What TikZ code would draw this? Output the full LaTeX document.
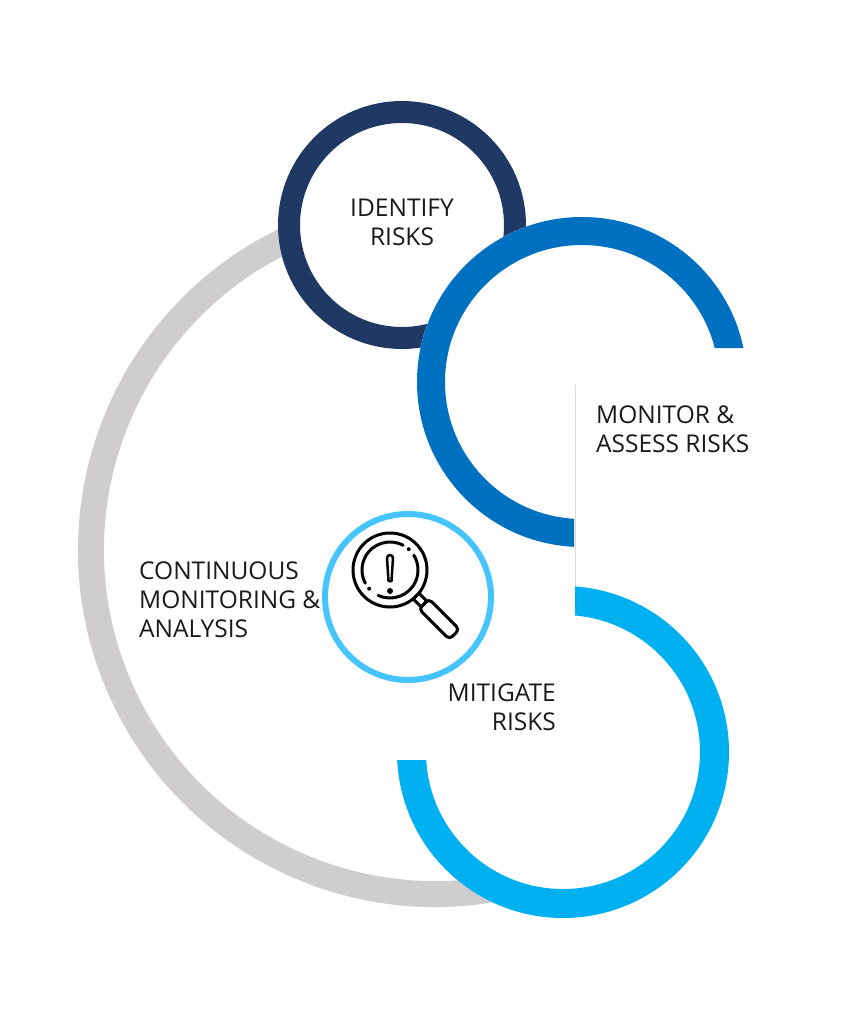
\documentclass[tikz,border=0pt]{standalone}
\usepackage{fontspec}
\setmainfont{Open Sans}
\definecolor{grayring}{HTML}{CFCDCE}
\definecolor{navy}{HTML}{203864}
\definecolor{midblue}{HTML}{0070C0}
\definecolor{lightblue}{HTML}{00B0F0}
\definecolor{skyblue}{HTML}{45C4FF}
\definecolor{txt}{HTML}{1A1A1A}
\begin{document}
\begin{tikzpicture}[x=1pt,y=-1pt,
  lbl/.style={font=\fontsize{24.5}{29}\selectfont, text=txt, inner sep=0pt},
  icon/.style={draw=black, line width=3pt, line cap=round}]
\useasboundingbox[fill=white] (0,0) rectangle (864,1024);
% gray arc
\draw[grayring, line width=26pt] (435,550) ++(66:344) arc[start angle=66, end angle=282, radius=344];
% navy ring
\node[circle, draw=navy, line width=22pt, fill=white, minimum size=226pt, inner sep=0pt] (navy) at (402,225) {};
% blue ring
\fill[white] (582,382) circle[radius=165];
\begin{scope}
\clip (0,0) -- (864,0) -- (864,348) -- (574,348) -- (574,1024) -- (0,1024) -- cycle;
\draw[midblue, line width=28pt] (582,382) circle[radius=151];
\end{scope}
% separator line
\coordinate (lt) at (575,385);
\coordinate (lb) at (575,760);
\draw[black!15, line width=1pt] (lt) -- (lb);
% light blue ring
\fill[white] (563,752) circle[radius=166];
\begin{scope}
\clip (575,0) -- (864,0) -- (864,1024) -- (0,1024) -- (0,760) -- (575,760) -- cycle;
\draw[lightblue, line width=29pt] (563,752) circle[radius=151.5];
\end{scope}
% small circle
\node[circle, draw=skyblue, line width=6pt, fill=white, minimum size=166pt, inner sep=0pt] (hub) at (408,597) {};
% icon
\begin{scope}[shift={(390,570)}]
\draw[icon] (0,0) circle[radius=37];
\draw[icon] (0,0) ++(-62:28) arc[start angle=-62, end angle=-208, radius=28];
\draw[icon] (0,0) ++(-245:28) arc[start angle=-245, end angle=-392, radius=28];
\fill (-222:28) circle[radius=2];
\fill (-48:28) circle[radius=2];
\draw[icon, line width=2.5pt, line join=round] (-3,-12) -- (-1.5,11) -- (1.5,11) -- (3,-12) arc[start angle=0, end angle=-180, radius=3] -- cycle;
\fill (0,21) circle[radius=3];
\begin{scope}[rotate=-45]
\draw[icon, line join=round] (37,-4) rectangle (48,4);
\draw[icon, rounded corners=4pt] (48,-7) rectangle (91,7);
\end{scope}
\end{scope}
% labels
\node[lbl, align=center] (t1) at (402,222) {IDENTIFY\\RISKS};
\node[lbl, align=left, anchor=west] (t2) at (596,429) {MONITOR \&\\ASSESS RISKS};
\node[lbl, align=left, anchor=west] (t3) at (139,600) {CONTINUOUS\\MONITORING \&\\ANALYSIS};
\node[lbl, align=right, anchor=east] (t4) at (556,707) {MITIGATE\\RISKS};
\end{tikzpicture}
\end{document}
